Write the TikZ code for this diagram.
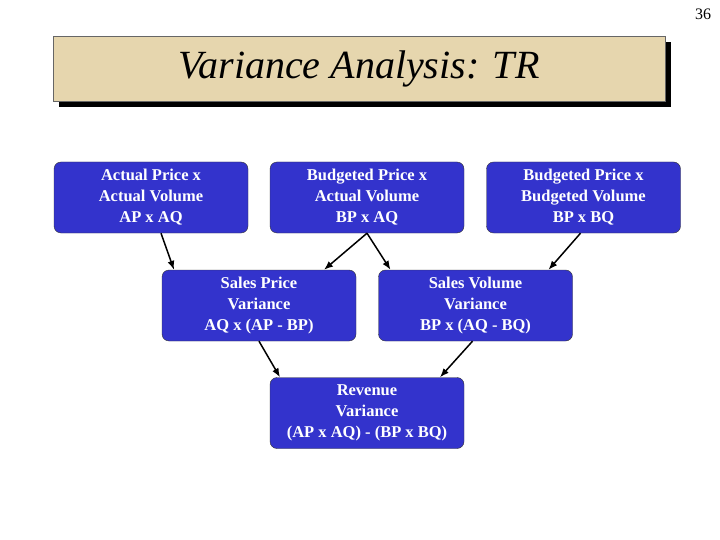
\documentclass[tikz,border=0pt]{standalone}
\usepackage{fontspec}
\setmainfont{Liberation Serif}
\usetikzlibrary{arrows.meta}
\definecolor{boxblue}{HTML}{3333CC}
\definecolor{parch}{HTML}{E6D6AE}
\tikzset{
 vbox/.style={draw=black!80, fill=boxblue, rounded corners=7pt, minimum width=194pt, minimum height=71pt, text=white, align=center, font=\fontsize{16.5}{21}\selectfont\bfseries, inner sep=2pt},
 conn/.style={-{Latex[length=9pt,width=7pt]}, line width=1.5pt}
}
\begin{document}
\begin{tikzpicture}[x=1pt,y=-1pt]
\useasboundingbox (0,0) rectangle (720,540);
\node[font=\fontsize{16}{16}\selectfont] at (703,14) {36};
\fill[black] (59,42) rectangle (671,107);
\node[draw=black!60, fill=parch, minimum width=612pt, minimum height=65pt, inner sep=0pt, font=\fontsize{40}{40}\selectfont\itshape] (title) at (359,68.5) {Variance Analysis: TR};
\node[vbox] (a) at (151,197.5) {Actual Price x\\Actual Volume\\AP x AQ};
\node[vbox] (b) at (367,197.5) {Budgeted Price x\\Actual Volume\\BP x AQ};
\node[vbox] (c) at (583.5,197.5) {Budgeted Price x\\Budgeted Volume\\BP x BQ};
\node[vbox] (d) at (259,305.5) {Sales Price\\Variance\\AQ x (AP - BP)};
\node[vbox] (e) at (475.5,305.5) {Sales Volume\\Variance\\BP x (AQ - BQ)};
\node[vbox] (f) at (367,413) {Revenue\\Variance\\(AP x AQ) - (BP x BQ)};
\draw[conn] ([xshift=10pt]a.south) -- ([xshift=-85pt]d.north);
\draw[conn] (b.south) -- ([xshift=65pt]d.north);
\draw[conn] (b.south) -- ([xshift=-85pt]e.north);
\draw[conn] ([xshift=-3pt]c.south) -- ([xshift=73pt]e.north);
\draw[conn] ([xshift=0pt]d.south) -- ([xshift=-87pt]f.north);
\draw[conn] ([xshift=-3pt]e.south) -- ([xshift=73pt]f.north);
\end{tikzpicture}
\end{document}
